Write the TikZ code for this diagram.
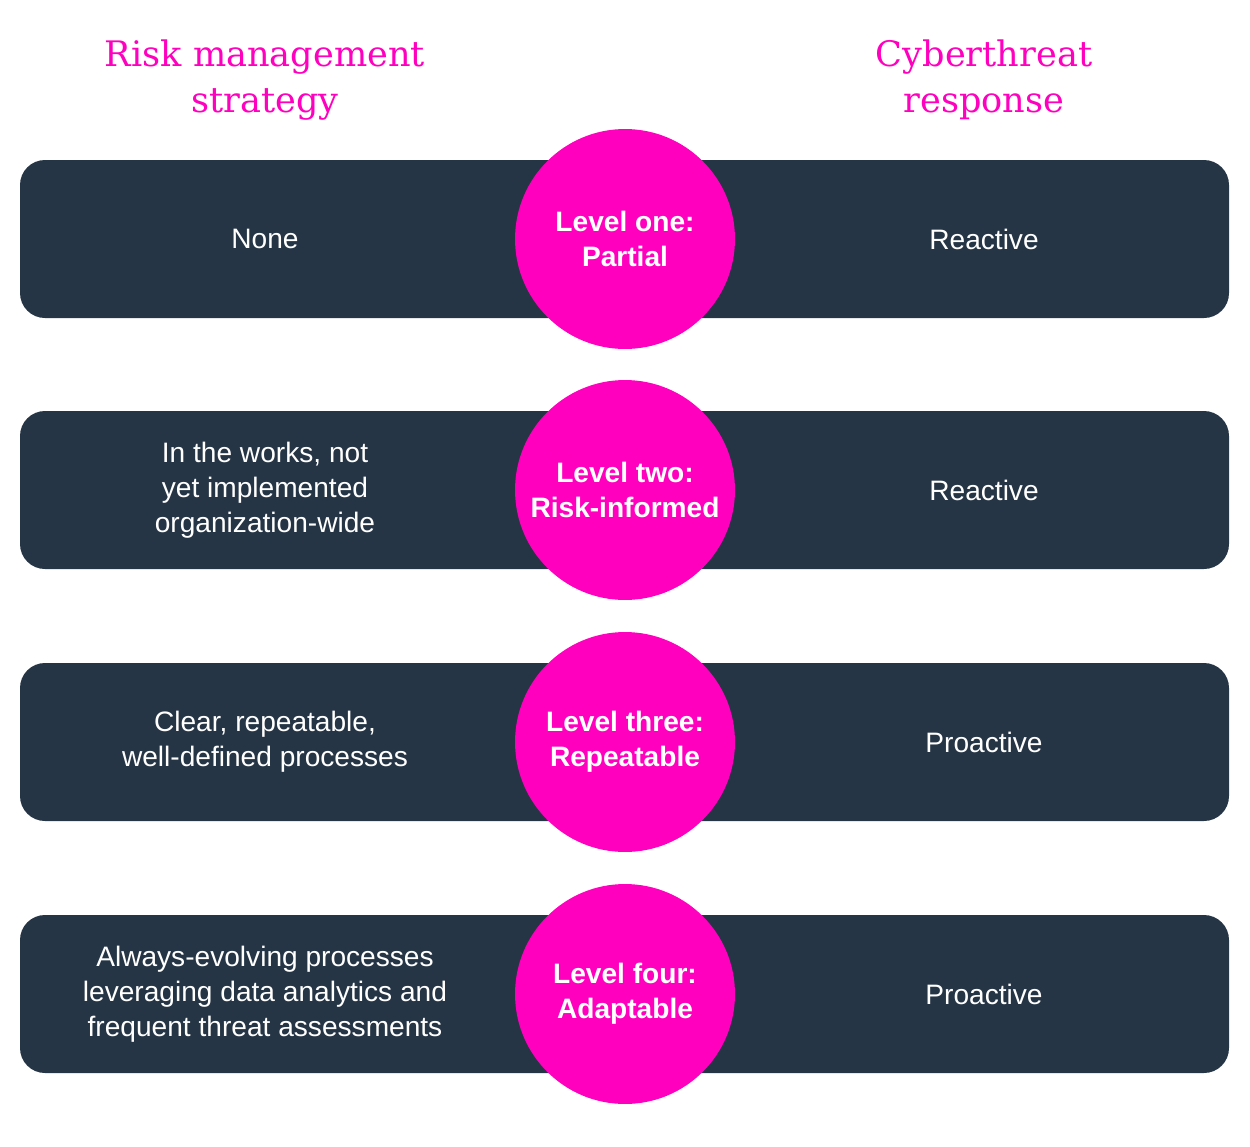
\documentclass[tikz,border=0pt]{standalone}
\usepackage{fontspec}
\setmainfont{Liberation Sans}
\newfontfamily\headfont{DejaVu Serif}
\definecolor{bar}{HTML}{253545}
\definecolor{mag}{HTML}{FF00BF}
\begin{document}
\begin{tikzpicture}[x=0.02cm,y=-0.02cm,
  barbox/.style={fill=bar,rounded corners=0.5cm},
  circ/.style={circle,fill=mag,minimum size=4.4cm,inner sep=0pt,text=white,font=\fontsize{16}{20}\selectfont\bfseries,align=center},
  txt/.style={text=white,font=\fontsize{16}{20}\selectfont,align=center},
  head/.style={text=mag,font=\headfont\fontsize{20}{26}\selectfont,align=center}]
\useasboundingbox (0,0) rectangle (1250,1146);
\node[head] (h1) at (265,80) {Risk management\\strategy};
\node[head] (h2) at (984,80) {Cyberthreat\\response};
\foreach \y/\lvl/\l/\r [count=\i] in {
 239/{Level one:\\Partial}/{None}/{Reactive},
 490/{Level two:\\Risk-informed}/{In the works, not\\yet implemented\\organization-wide}/{Reactive},
 742/{Level three:\\Repeatable}/{Clear, repeatable,\\well-defined processes}/{Proactive},
 994/{Level four:\\Adaptable}/{Always-evolving processes\\leveraging data analytics and\\frequent threat assessments}/{Proactive}}{
  \fill[barbox] (20,\y-79) rectangle (1229,\y+79);
  \node[circ] (c\i) at (625,\y) {\lvl};
  \node[txt] (l\i) at (265,\y) {\l};
  \node[txt] (r\i) at (984,\y) {\r};
}
\end{tikzpicture}
\end{document}
